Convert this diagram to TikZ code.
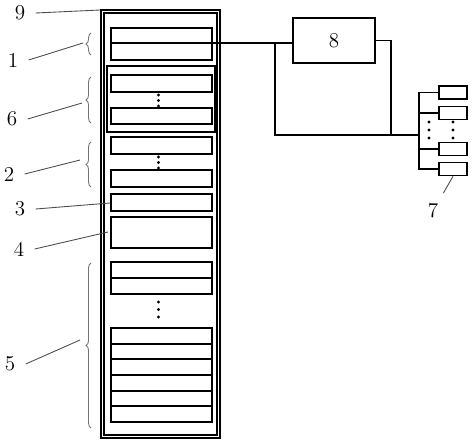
\documentclass[tikz,border=0pt]{standalone}
\usepackage{tikz}
\usetikzlibrary{decorations.pathreplacing}

\tikzset{
  unit/.style={line width=0.95pt},
  lead/.style={draw=black!70, line width=0.5pt},
  brc/.style={draw=black!55, line width=0.5pt, decorate, decoration={brace, amplitude=2.8pt}},
  num/.style={font=\fontsize{12}{12}\selectfont, inner sep=0pt, outer sep=6pt},
  blk/.style={draw, line width=0.95pt, inner sep=0pt}
}

\begin{document}
\begin{tikzpicture}[x=0.02cm, y=-0.02cm]
    		\useasboundingbox (0,0) rectangle (474,447);
    		% cabinet
    		\draw[line width=1.3pt] (101,10) rectangle (220,438);
    		\draw[unit] (104,13) rectangle (217,435);
    		% modules
    		\draw[unit] (111,28) rectangle (212,60);
    		\draw[unit] (107,66) rectangle (215,132);
    		\draw[unit] (111,75) rectangle (212,92);
    		\draw[unit] (111,108) rectangle (212,124);
    		\draw[unit] (111,137) rectangle (212,154);
    		\draw[unit] (111,170) rectangle (212,187);
    		\draw[unit] (111,194) rectangle (212,211);
    		\draw[unit] (111,217) rectangle (212,248);
    		\draw[unit] (111,262) rectangle (212,294);
    		\draw[unit] (111,278) -- (212,278);
    		\draw[unit] (111,328) rectangle (212,422);
    		\foreach \y in {343.7,359.3,375,390.7,406.3}
    			\draw[unit] (111,\y) -- (212,\y);
    		\foreach \y in {95,100.5,106, 157,162.5,168, 302,309.5,317}
    			\fill (158.5,\y) circle(0.9pt);
    		% braces
    		\draw[brc] (91,55) -- (91,33);
    		\draw[brc] (91,123) -- (91,77);
    		\draw[brc] (91,187) -- (91,142);
    		\draw[brc] (91,428) -- (91,263);
    		% labels
    		\node[num] (n9) at (20,13) {9};
    		\node[num] (n1) at (13,60) {1};
    		\node[num] (n6) at (12,119) {6};
    		\node[num] (n2) at (9,174) {2};
    		\node[num] (n3) at (20,209) {3};
    		\node[num] (n4) at (19,249) {4};
    		\node[num] (n5) at (10,364) {5};
    		\coordinate (c9) at (100,10);
    		\coordinate (c1) at (83,43);
    		\coordinate (c6) at (82,103);
    		\coordinate (c2) at (80,160);
    		\coordinate (c3) at (110,203);
    		\coordinate (c4) at (108,232);
    		\coordinate (c5) at (80,340);
    		\foreach \k in {9,1,6,2,3,4,5}
    			\draw[lead] (n\k.east) -- (c\k);
    		% controller and bus
    		\node[blk, minimum width=1.64cm, minimum height=0.9cm, font=\fontsize{12}{12}\selectfont] (box8) at (334,40.5) {8};
    		\coordinate (m1) at (111,43);
    		\coordinate (j1) at (275,43);
    		\coordinate (j2) at (275,135);
    		\coordinate (j3) at (391,135);
    		\coordinate (j4) at (419,135);
    		\draw[unit] (m1) -- (m1 -| box8.west);
    		\draw[unit] (j1) -- (j2) -- (j4);
    		\draw[unit] (box8.east) -| (j3);
    		% terminals
    		\node[blk, minimum width=0.56cm, minimum height=0.26cm] (s1) at (453,92.5) {};
    		\node[blk, minimum width=0.56cm, minimum height=0.26cm] (s2) at (453,113) {};
    		\node[blk, minimum width=0.56cm, minimum height=0.26cm] (s3) at (453,149) {};
    		\node[blk, minimum width=0.56cm, minimum height=0.26cm] (s4) at (453,169) {};
    		\draw[unit] (s1.west) -- (s1.west -| j4) -- (s4.west -| j4) -- (s4.west);
    		\draw[unit] (s2.west) -- (s2.west -| j4);
    		\draw[unit] (s3.west) -- (s3.west -| j4);
    		\foreach \y in {122,130,138} {
    			\fill (429,\y) circle(0.9pt);
    			\fill (453,\y) circle(0.9pt);
    		}
    		\node[num] (n7) at (433,211) {7};
    		\draw[lead] (n7.60) -- (s4.south);
    \end{tikzpicture}
\end{document}
